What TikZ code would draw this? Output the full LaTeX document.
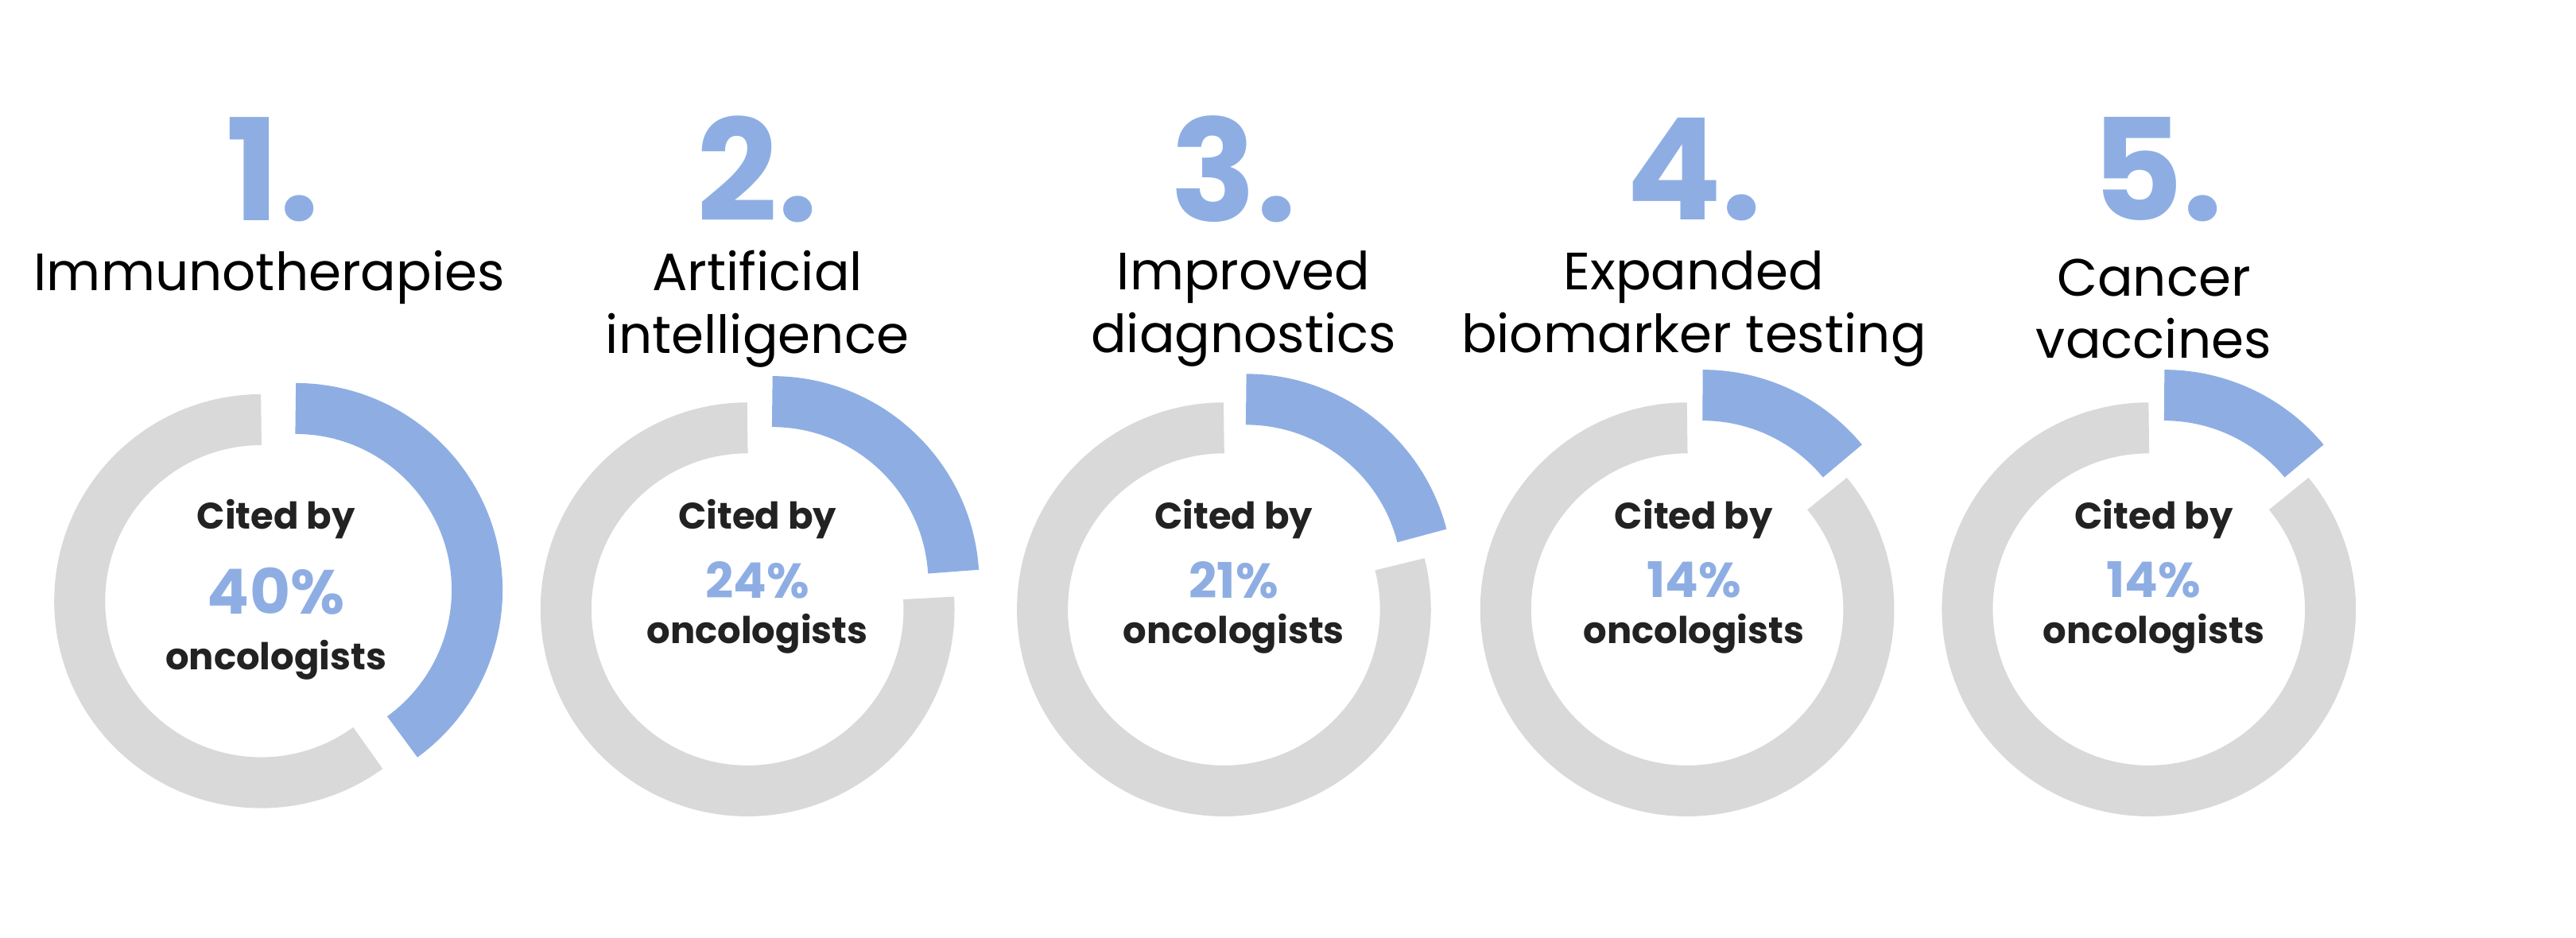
\documentclass[tikz,border=0pt]{standalone}
\usepackage{fontspec}
\setmainfont{Poppins}
\definecolor{bl}{HTML}{8EAEE3}
\definecolor{gr}{HTML}{D9D9D9}
\definecolor{tx}{HTML}{222222}
\begin{document}
\begin{tikzpicture}[x=0.1cm,y=-0.1cm,
  num/.style={text=bl,inner sep=0pt,font=\fontsize{245}{245}\selectfont\bfseries},
  ttl/.style={text=black,align=center,inner sep=0pt,font=\fontsize{91}{108}\selectfont},
  cit/.style={text=tx,font=\fontsize{64}{70}\selectfont\bfseries},
  pct/.style={text=bl,font=\fontsize{85}{90}\selectfont\bfseries}]
\useasboundingbox (0,0) rectangle (1568,570.6);
\newcommand{\donut}[4]{%
  \pgfmathsetmacro{\ea}{-90+#3}
  \pgfmathsetmacro{\ga}{-90-360+#3}
  \pgfmathsetmacro{\bi}{-90+#3/2}
  \draw[gr,line width=3.1cm] ([shift={(-90:110.5)}]#1,#2) arc[start angle=-90,end angle=\ga,radius=110.5];
  \draw[bl,line width=3.1cm,shift={(\bi:22)}] ([shift={(-90:110.5)}]#1,#2) arc[start angle=-90,end angle=\ea,radius=110.5];
}
\donut{159}{366}{144}{a}
\donut{455}{371}{86.4}{b}
\donut{745}{371}{75.6}{c}
\donut{1027}{371}{50.4}{d}
\donut{1308}{371}{50.4}{e}

\node[num] (n1) at (166,103) {1.};
\node[num] (n2) at (461,103) {2.};
\node[num] (n3) at (751,103) {3.};
\node[num] (n4) at (1031,103) {4.};
\node[num] (n5) at (1313,103) {5.};

\node[ttl] (t1) at (164,169) {Immunotherapies};
\node[ttl] (t2) at (461,188) {Artificial\\intelligence};
\node[ttl] (t3) at (757,188) {Improved\\diagnostics};
\node[ttl] (t4) at (1031,188) {Expanded\\biomarker testing};
\node[ttl] (t5) at (1311,188) {Cancer\\vaccines};

\node[cit] (c1) at (168,316) {Cited by};
\node[pct,font=\fontsize{108}{110}\selectfont\bfseries] (p1) at (168,360) {40\%};
\node[cit] (o1) at (168,402) {oncologists};
\foreach \x/\p/\k in {461/24/2,751/21/3,1031/14/4,1311/14/5}{
  \node[cit] (c\k) at (\x,316) {Cited by};
  \node[pct] (p\k) at (\x,353) {\p\%};
  \node[cit] (o\k) at (\x,386) {oncologists};
}
\end{tikzpicture}
\end{document}
